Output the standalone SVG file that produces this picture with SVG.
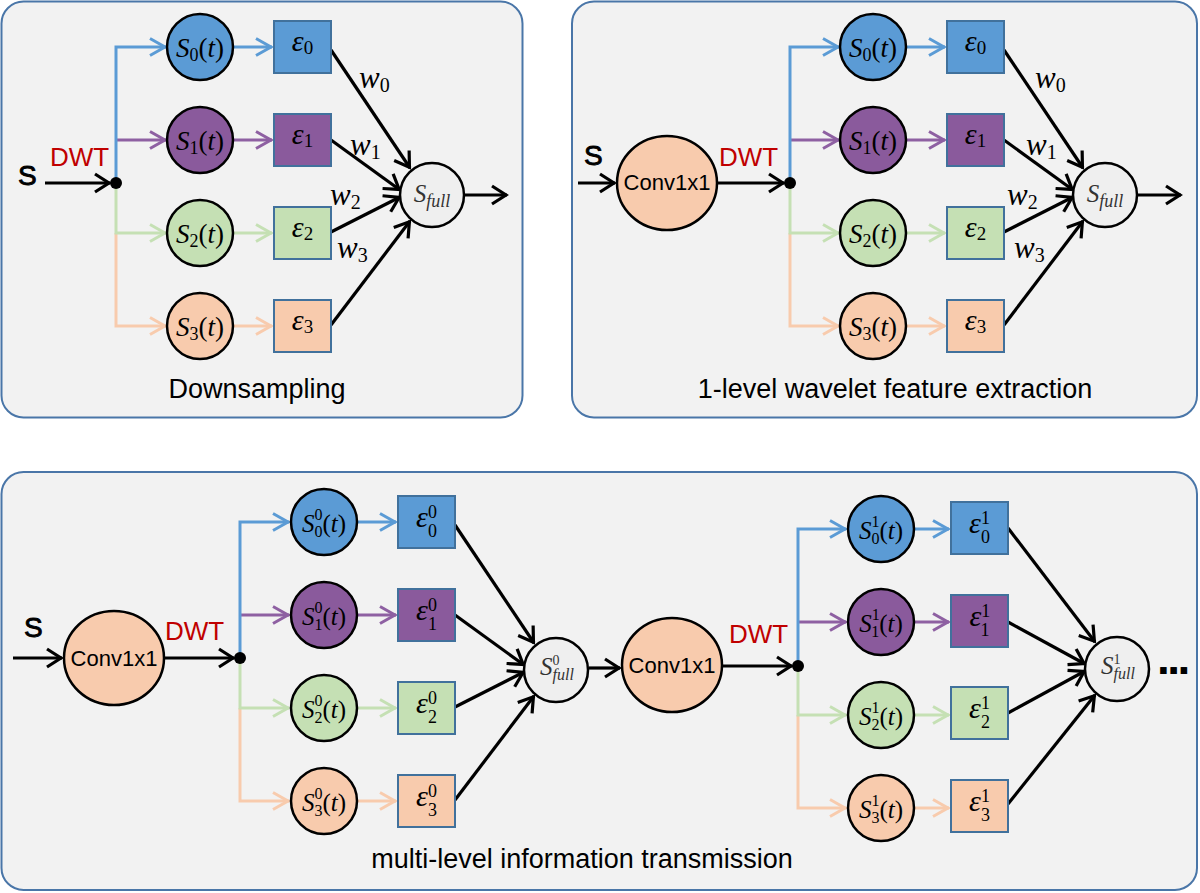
<svg xmlns="http://www.w3.org/2000/svg" width="1200" height="893" viewBox="0 0 1200 893">
<style>
.panel{fill:#f2f2f2;stroke:#4a76a8;stroke-width:2}
.c{stroke:#000;stroke-width:2.5}
.bx{stroke:#41719c;stroke-width:2}
.fb{fill:#5b9bd5}.fp{fill:#8a5a9c}.fg{fill:#c5e0b4}.fo{fill:#f8cbad}
.full{fill:#efefef;stroke:#000;stroke-width:2.5}
.ln{fill:none;stroke:#000;stroke-width:3.2}
.lb{fill:none;stroke:#5b9bd5;stroke-width:3;marker-end:url(#mb)}
.lp{fill:none;stroke:#8e60a2;stroke-width:3;marker-end:url(#mp)}
.lg{fill:none;stroke:#c5e0b4;stroke-width:3;marker-end:url(#mg)}
.lo{fill:none;stroke:#f8cbad;stroke-width:3;marker-end:url(#mo)}
.ar{marker-end:url(#ma)}
.m{font-family:"Liberation Serif","DejaVu Serif",serif;font-size:27px;text-anchor:middle;fill:#000}
.m2{font-family:"Liberation Serif","DejaVu Serif",serif;font-size:25px;text-anchor:middle;fill:#000}
.me{font-family:"Liberation Serif","DejaVu Serif",serif;font-size:30px;text-anchor:middle;fill:#000}
.mf{font-family:"Liberation Serif","DejaVu Serif",serif;font-size:25px;text-anchor:middle;fill:#333}
.mw{font-family:"Liberation Serif","DejaVu Serif",serif;font-size:31px;fill:#000}
.i{font-style:italic}
.sans{font-family:"Liberation Sans",Arial,sans-serif}
.S{font-family:"Liberation Sans",Arial,sans-serif;font-size:28px;fill:#000;stroke:#000;stroke-width:0.9}
.dwt{font-family:"Liberation Sans",Arial,sans-serif;font-size:26px;fill:#c00000}
.conv{font-family:"Liberation Sans",Arial,sans-serif;font-size:22px;text-anchor:middle;fill:#000}
.cap{font-family:"Liberation Sans",Arial,sans-serif;font-size:27px;text-anchor:middle;fill:#000}
</style>
<defs>
<marker id="ma" markerUnits="userSpaceOnUse" viewBox="-20 -12 24 24" refX="0" refY="0" markerWidth="24" markerHeight="24" orient="auto"><path d="M-15,-9 L-1,0 L-15,9" fill="none" stroke="#000" stroke-width="3.2"/></marker>
<marker id="mb" markerUnits="userSpaceOnUse" viewBox="-20 -12 24 24" refX="0" refY="0" markerWidth="24" markerHeight="24" orient="auto"><path d="M-16,-8.5 L-1,0 L-16,8.5" fill="none" stroke="#5b9bd5" stroke-width="3"/></marker>
<marker id="mp" markerUnits="userSpaceOnUse" viewBox="-20 -12 24 24" refX="0" refY="0" markerWidth="24" markerHeight="24" orient="auto"><path d="M-16,-8.5 L-1,0 L-16,8.5" fill="none" stroke="#8e60a2" stroke-width="3"/></marker>
<marker id="mg" markerUnits="userSpaceOnUse" viewBox="-20 -12 24 24" refX="0" refY="0" markerWidth="24" markerHeight="24" orient="auto"><path d="M-16,-8.5 L-1,0 L-16,8.5" fill="none" stroke="#c5e0b4" stroke-width="3"/></marker>
<marker id="mo" markerUnits="userSpaceOnUse" viewBox="-20 -12 24 24" refX="0" refY="0" markerWidth="24" markerHeight="24" orient="auto"><path d="M-16,-8.5 L-1,0 L-16,8.5" fill="none" stroke="#f8cbad" stroke-width="3"/></marker>
</defs>

<g id="panels">
<rect class="panel" x="1.5" y="1.5" width="521" height="416" rx="22"/>
<rect class="panel" x="572" y="1.5" width="625" height="416" rx="22"/>
<rect class="panel" x="1.5" y="472" width="1195.5" height="418" rx="22"/>
</g>

<g id="connectors">
<!-- Panel A -->
<path class="lo" d="M116,233 V326 H166"/>
<path class="lg" d="M116,183 V233 H166"/>
<path class="lp" d="M116,140 H166"/>
<path class="lb" d="M116,183 V47 H166"/>
<path class="lb" d="M233,47 H272"/>
<path class="lp" d="M233,140 H272"/>
<path class="lg" d="M233,233 H272"/>
<path class="lo" d="M233,326 H272"/>
<path class="ln ar" d="M45,183 H110"/>
<path class="ln ar" d="M331,50 L410,168"/>
<path class="ln ar" d="M331,140 L400,190"/>
<path class="ln ar" d="M331,232 L400,197"/>
<path class="ln ar" d="M331,325 L410,221"/>
<path class="ln ar" d="M465,195 H507"/>
<!-- Panel B -->
<path class="lo" d="M790,233 V326 H839"/>
<path class="lg" d="M790,183 V233 H839"/>
<path class="lp" d="M790,140 H839"/>
<path class="lb" d="M790,183 V47 H839"/>
<path class="lb" d="M906,47 H945"/>
<path class="lp" d="M906,140 H945"/>
<path class="lg" d="M906,233 H945"/>
<path class="lo" d="M906,326 H945"/>
<path class="ln ar" d="M578,183 H615"/>
<path class="ln ar" d="M717,183 H784"/>
<path class="ln ar" d="M1004,50 L1083,168"/>
<path class="ln ar" d="M1004,140 L1073,190"/>
<path class="ln ar" d="M1004,232 L1073,197"/>
<path class="ln ar" d="M1004,325 L1083,221"/>
<path class="ln ar" d="M1138,195 H1181"/>
<!-- Panel C first stage -->
<path class="lo" d="M240,708 V801 H289"/>
<path class="lg" d="M240,658 V708 H289"/>
<path class="lp" d="M240,615 H289"/>
<path class="lb" d="M240,658 V522 H289"/>
<path class="lb" d="M357,522 H396"/>
<path class="lp" d="M357,615 H396"/>
<path class="lg" d="M357,708 H396"/>
<path class="lo" d="M357,801 H396"/>
<path class="ln ar" d="M13,658 H62"/>
<path class="ln ar" d="M164,658 H234"/>
<path class="ln ar" d="M455,525 L534,643"/>
<path class="ln ar" d="M455,615 L524,665"/>
<path class="ln ar" d="M455,707 L524,672"/>
<path class="ln ar" d="M455,800 L534,696"/>
<path class="ln ar" d="M589,668 H620"/>
<!-- Panel C second stage -->
<path class="lo" d="M798,715 V808 H846"/>
<path class="lg" d="M798,666 V715 H846"/>
<path class="lp" d="M798,622 H846"/>
<path class="lb" d="M798,666 V529 H846"/>
<path class="lb" d="M914,529 H949"/>
<path class="lp" d="M914,622 H949"/>
<path class="lg" d="M914,715 H949"/>
<path class="lo" d="M914,808 H949"/>
<path class="ln ar" d="M722,666 H792"/>
<path class="ln ar" d="M1008,528 L1095,642"/>
<path class="ln ar" d="M1008,622 L1085,664"/>
<path class="ln ar" d="M1008,713 L1085,671"/>
<path class="ln ar" d="M1008,804 L1095,695"/>
<circle cx="116" cy="183" r="6" fill="#000"/>
<circle cx="790" cy="183" r="6" fill="#000"/>
<circle cx="240" cy="658" r="6" fill="#000"/>
<circle cx="798" cy="666" r="6" fill="#000"/>
</g>

<!-- ===== Panel A: Downsampling ===== -->
<g id="A-input"><text class="S" x="18" y="185">S</text><text class="dwt" x="50" y="166">DWT</text></g>
<g id="A-S0"><circle class="c fb" cx="200" cy="47" r="33"/><text class="m" x="200" y="57"><tspan class="i">S</tspan><tspan font-size="18" dy="4">0</tspan><tspan dy="-4">(</tspan><tspan class="i">t</tspan>)</text></g>
<g id="A-S1"><circle class="c fp" cx="200" cy="140" r="33"/><text class="m" x="200" y="150"><tspan class="i">S</tspan><tspan font-size="18" dy="4">1</tspan><tspan dy="-4">(</tspan><tspan class="i">t</tspan>)</text></g>
<g id="A-S2"><circle class="c fg" cx="200" cy="233" r="33"/><text class="m" x="200" y="243"><tspan class="i">S</tspan><tspan font-size="18" dy="4">2</tspan><tspan dy="-4">(</tspan><tspan class="i">t</tspan>)</text></g>
<g id="A-S3"><circle class="c fo" cx="200" cy="326" r="33"/><text class="m" x="200" y="336"><tspan class="i">S</tspan><tspan font-size="18" dy="4">3</tspan><tspan dy="-4">(</tspan><tspan class="i">t</tspan>)</text></g>
<g id="A-e0"><rect class="bx fb" x="274" y="21" width="57" height="52"/><text class="me" x="302.5" y="51"><tspan class="i">ε</tspan><tspan font-size="19" dy="3">0</tspan></text></g>
<g id="A-e1"><rect class="bx fp" x="274" y="114" width="57" height="52"/><text class="me" x="302.5" y="144"><tspan class="i">ε</tspan><tspan font-size="19" dy="3">1</tspan></text></g>
<g id="A-e2"><rect class="bx fg" x="274" y="207" width="57" height="52"/><text class="me" x="302.5" y="237"><tspan class="i">ε</tspan><tspan font-size="19" dy="3">2</tspan></text></g>
<g id="A-e3"><rect class="bx fo" x="274" y="300" width="57" height="52"/><text class="me" x="302.5" y="330"><tspan class="i">ε</tspan><tspan font-size="19" dy="3">3</tspan></text></g>
<g id="A-full"><circle class="full" cx="432" cy="195" r="32"/><text class="mf" x="432" y="202"><tspan class="i">S</tspan><tspan class="i" font-size="18" dy="5">full</tspan></text></g>
<g id="A-weights">
<text class="mw" x="359" y="88"><tspan class="i">w</tspan><tspan font-size="20" dy="4">0</tspan></text>
<text class="mw" x="350" y="155"><tspan class="i">w</tspan><tspan font-size="20" dy="4">1</tspan></text>
<text class="mw" x="330" y="205"><tspan class="i">w</tspan><tspan font-size="20" dy="4">2</tspan></text>
<text class="mw" x="337" y="258"><tspan class="i">w</tspan><tspan font-size="20" dy="4">3</tspan></text>
</g>
<text class="cap" x="257" y="398">Downsampling</text>

<!-- ===== Panel B ===== -->
<g id="B-input"><text class="S" x="584" y="165">S</text><text class="dwt" x="719" y="166">DWT</text></g>
<g id="B-conv"><ellipse class="c fo" cx="667" cy="183" rx="50" ry="47"/><text class="conv" x="667" y="190">Conv1x1</text></g>
<g id="B-S0"><circle class="c fb" cx="873" cy="47" r="33"/><text class="m" x="873" y="57"><tspan class="i">S</tspan><tspan font-size="18" dy="4">0</tspan><tspan dy="-4">(</tspan><tspan class="i">t</tspan>)</text></g>
<g id="B-S1"><circle class="c fp" cx="873" cy="140" r="33"/><text class="m" x="873" y="150"><tspan class="i">S</tspan><tspan font-size="18" dy="4">1</tspan><tspan dy="-4">(</tspan><tspan class="i">t</tspan>)</text></g>
<g id="B-S2"><circle class="c fg" cx="873" cy="233" r="33"/><text class="m" x="873" y="243"><tspan class="i">S</tspan><tspan font-size="18" dy="4">2</tspan><tspan dy="-4">(</tspan><tspan class="i">t</tspan>)</text></g>
<g id="B-S3"><circle class="c fo" cx="873" cy="326" r="33"/><text class="m" x="873" y="336"><tspan class="i">S</tspan><tspan font-size="18" dy="4">3</tspan><tspan dy="-4">(</tspan><tspan class="i">t</tspan>)</text></g>
<g id="B-e0"><rect class="bx fb" x="947" y="21" width="57" height="52"/><text class="me" x="975.5" y="51"><tspan class="i">ε</tspan><tspan font-size="19" dy="3">0</tspan></text></g>
<g id="B-e1"><rect class="bx fp" x="947" y="114" width="57" height="52"/><text class="me" x="975.5" y="144"><tspan class="i">ε</tspan><tspan font-size="19" dy="3">1</tspan></text></g>
<g id="B-e2"><rect class="bx fg" x="947" y="207" width="57" height="52"/><text class="me" x="975.5" y="237"><tspan class="i">ε</tspan><tspan font-size="19" dy="3">2</tspan></text></g>
<g id="B-e3"><rect class="bx fo" x="947" y="300" width="57" height="52"/><text class="me" x="975.5" y="330"><tspan class="i">ε</tspan><tspan font-size="19" dy="3">3</tspan></text></g>
<g id="B-full"><circle class="full" cx="1105" cy="195" r="32"/><text class="mf" x="1105" y="202"><tspan class="i">S</tspan><tspan class="i" font-size="18" dy="5">full</tspan></text></g>
<g id="B-weights">
<text class="mw" x="1035" y="88"><tspan class="i">w</tspan><tspan font-size="20" dy="4">0</tspan></text>
<text class="mw" x="1026" y="155"><tspan class="i">w</tspan><tspan font-size="20" dy="4">1</tspan></text>
<text class="mw" x="1007" y="205"><tspan class="i">w</tspan><tspan font-size="20" dy="4">2</tspan></text>
<text class="mw" x="1014" y="258"><tspan class="i">w</tspan><tspan font-size="20" dy="4">3</tspan></text>
</g>
<text class="cap" x="895" y="398">1-level wavelet feature extraction</text>

<!-- ===== Panel C stage 0 ===== -->
<g id="C-input"><text class="S" x="24" y="637">S</text><text class="dwt" x="165" y="640">DWT</text></g>
<g id="C-conv"><ellipse class="c fo" cx="114" cy="658" rx="50" ry="47"/><text class="conv" x="114" y="666">Conv1x1</text></g>
<g id="C-S0"><circle class="c fb" cx="324" cy="522" r="33"/><text class="m2" x="324" y="532"><tspan class="i">S</tspan><tspan font-size="16" dy="-12">0</tspan><tspan font-size="16" dx="-8" dy="17">0</tspan><tspan dy="-5">(</tspan><tspan class="i">t</tspan>)</text></g>
<g id="C-S1"><circle class="c fp" cx="324" cy="615" r="33"/><text class="m2" x="324" y="625"><tspan class="i">S</tspan><tspan font-size="16" dy="-12">0</tspan><tspan font-size="16" dx="-8" dy="17">1</tspan><tspan dy="-5">(</tspan><tspan class="i">t</tspan>)</text></g>
<g id="C-S2"><circle class="c fg" cx="324" cy="708" r="33"/><text class="m2" x="324" y="718"><tspan class="i">S</tspan><tspan font-size="16" dy="-12">0</tspan><tspan font-size="16" dx="-8" dy="17">2</tspan><tspan dy="-5">(</tspan><tspan class="i">t</tspan>)</text></g>
<g id="C-S3"><circle class="c fo" cx="324" cy="801" r="33"/><text class="m2" x="324" y="811"><tspan class="i">S</tspan><tspan font-size="16" dy="-12">0</tspan><tspan font-size="16" dx="-8" dy="17">3</tspan><tspan dy="-5">(</tspan><tspan class="i">t</tspan>)</text></g>
<g id="C-e0"><rect class="bx fb" x="398" y="496" width="57" height="52"/><text class="me" x="426.5" y="527"><tspan class="i">ε</tspan><tspan font-size="18" dy="-9">0</tspan><tspan font-size="18" dx="-9" dy="19">0</tspan></text></g>
<g id="C-e1"><rect class="bx fp" x="398" y="589" width="57" height="52"/><text class="me" x="426.5" y="620"><tspan class="i">ε</tspan><tspan font-size="18" dy="-9">0</tspan><tspan font-size="18" dx="-9" dy="19">1</tspan></text></g>
<g id="C-e2"><rect class="bx fg" x="398" y="682" width="57" height="52"/><text class="me" x="426.5" y="713"><tspan class="i">ε</tspan><tspan font-size="18" dy="-9">0</tspan><tspan font-size="18" dx="-9" dy="19">2</tspan></text></g>
<g id="C-e3"><rect class="bx fo" x="398" y="775" width="57" height="52"/><text class="me" x="426.5" y="806"><tspan class="i">ε</tspan><tspan font-size="18" dy="-9">0</tspan><tspan font-size="18" dx="-9" dy="19">3</tspan></text></g>
<g id="C-full"><circle class="full" cx="556" cy="670" r="32"/><text class="mf" x="557" y="675" font-size="22"><tspan class="i">S</tspan><tspan font-size="14" dy="-10">0</tspan><tspan class="i" font-size="16" dx="-7" dy="15">full</tspan></text></g>

<!-- ===== Panel C stage 1 ===== -->
<g id="D-dwt"><text class="dwt" x="729" y="643">DWT</text></g>
<g id="D-conv"><ellipse class="c fo" cx="672" cy="665" rx="50" ry="47"/><text class="conv" x="672" y="673">Conv1x1</text></g>
<g id="D-S0"><circle class="c fb" cx="881" cy="529" r="33"/><text class="m2" x="881" y="539"><tspan class="i">S</tspan><tspan font-size="16" dy="-12">1</tspan><tspan font-size="16" dx="-8" dy="17">0</tspan><tspan dy="-5">(</tspan><tspan class="i">t</tspan>)</text></g>
<g id="D-S1"><circle class="c fp" cx="881" cy="622" r="33"/><text class="m2" x="881" y="632"><tspan class="i">S</tspan><tspan font-size="16" dy="-12">1</tspan><tspan font-size="16" dx="-8" dy="17">1</tspan><tspan dy="-5">(</tspan><tspan class="i">t</tspan>)</text></g>
<g id="D-S2"><circle class="c fg" cx="881" cy="715" r="33"/><text class="m2" x="881" y="725"><tspan class="i">S</tspan><tspan font-size="16" dy="-12">1</tspan><tspan font-size="16" dx="-8" dy="17">2</tspan><tspan dy="-5">(</tspan><tspan class="i">t</tspan>)</text></g>
<g id="D-S3"><circle class="c fo" cx="881" cy="808" r="33"/><text class="m2" x="881" y="818"><tspan class="i">S</tspan><tspan font-size="16" dy="-12">1</tspan><tspan font-size="16" dx="-8" dy="17">3</tspan><tspan dy="-5">(</tspan><tspan class="i">t</tspan>)</text></g>
<g id="D-e0"><rect class="bx fb" x="951" y="502" width="57" height="52"/><text class="me" x="979.5" y="533"><tspan class="i">ε</tspan><tspan font-size="18" dy="-9">1</tspan><tspan font-size="18" dx="-9" dy="19">0</tspan></text></g>
<g id="D-e1"><rect class="bx fp" x="951" y="595" width="57" height="52"/><text class="me" x="979.5" y="626"><tspan class="i">ε</tspan><tspan font-size="18" dy="-9">1</tspan><tspan font-size="18" dx="-9" dy="19">1</tspan></text></g>
<g id="D-e2"><rect class="bx fg" x="951" y="687" width="57" height="52"/><text class="me" x="979.5" y="718"><tspan class="i">ε</tspan><tspan font-size="18" dy="-9">1</tspan><tspan font-size="18" dx="-9" dy="19">2</tspan></text></g>
<g id="D-e3"><rect class="bx fo" x="951" y="780" width="57" height="52"/><text class="me" x="979.5" y="811"><tspan class="i">ε</tspan><tspan font-size="18" dy="-9">1</tspan><tspan font-size="18" dx="-9" dy="19">3</tspan></text></g>
<g id="D-full"><circle class="full" cx="1117" cy="669" r="32"/><text class="mf" x="1118" y="674" font-size="22"><tspan class="i">S</tspan><tspan font-size="14" dy="-10">1</tspan><tspan class="i" font-size="16" dx="-7" dy="15">full</tspan></text></g>
<g id="D-more"><text class="sans" x="1157" y="674" font-size="46" font-weight="bold" letter-spacing="-2.5">...</text></g>
<text class="cap" x="582" y="868">multi-level information transmission</text>
</svg>
